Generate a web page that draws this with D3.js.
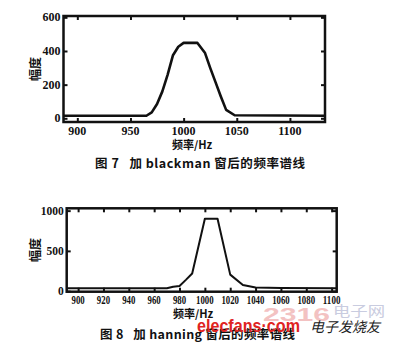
<!DOCTYPE html>
<html>
<head>
<meta charset="utf-8">
<script src="https://cdn.jsdelivr.net/npm/d3@7"></script>
<style>
  body { margin: 0; background: #fff; }
  svg { display: block; }
  .tick line { stroke: #111; stroke-width: 2; }
  .domain { display: none; }
  .caption { white-space: pre; }
</style>
</head>
<body>
<svg id="chart" width="400" height="347"></svg>
<script>
// fig 7 - blackman window
var freq7 = [887, 965, 970, 975, 980, 985, 990, 995, 1000, 1013, 1020, 1025, 1030, 1035, 1040, 1048, 1133];
var amp7  = [15, 15, 35, 85, 160, 260, 375, 425, 448, 448, 390, 300, 215, 130, 50, 18, 15];
var xTicks7 = [900, 950, 1000, 1050, 1100];
var yTicks7 = [0, 200, 400, 600];

// fig 8 - hanning window
var freq8 = [891, 970, 975, 980, 985, 990, 1000, 1010, 1020, 1030, 1040, 1060, 1104];
var amp8  = [35, 35, 55, 65, 140, 220, 900, 900, 205, 75, 45, 40, 35];
var xTicks8 = [900, 920, 940, 960, 980, 1000, 1020, 1040, 1060, 1080, 1100];
var yTicks8 = [0, 500, 1000];

var svg = d3.select("#chart");
var ink = "#111";
var serif = "'Liberation Serif', 'DejaVu Serif', serif";
var cjk = "'Noto Sans CJK SC', sans-serif";

function drawPanel(p) {
    var x = d3.scaleLinear().domain(p.xDomain).range([p.left, p.right]);
    var y = d3.scaleLinear().domain(p.yDomain).range([p.bottom, p.top]);
    var g = svg.append("g");

    // inward ticks on all four sides
    g.append("g").attr("transform", "translate(0," + p.bottom + ")")
        .call(d3.axisBottom(x).tickValues(p.xTicks).tickSizeInner(-4).tickSizeOuter(0).tickFormat(""));
    g.append("g").attr("transform", "translate(0," + p.top + ")")
        .call(d3.axisTop(x).tickValues(p.xTicks).tickSizeInner(-4).tickSizeOuter(0).tickFormat(""));
    g.append("g").attr("transform", "translate(" + p.left + ",0)")
        .call(d3.axisLeft(y).tickValues(p.yTicks).tickSizeInner(-4).tickSizeOuter(0).tickFormat(""));
    g.append("g").attr("transform", "translate(" + p.right + ",0)")
        .call(d3.axisRight(y).tickValues(p.yTicks).tickSizeInner(-4).tickSizeOuter(0).tickFormat(""));

    // tick labels
    var xl = g.selectAll(".xl").data(p.xTicks).enter().append("text")
        .attr("x", function(d) { return x(d); })
        .attr("y", p.bottom + p.xLabelDy)
        .attr("text-anchor", "middle")
        .style("font", "bold " + p.fs + "px " + serif)
        .attr("fill", ink)
        .text(function(d) { return d; });
    if (p.digitW) {
        xl.attr("textLength", function(d) { return String(d).length * p.digitW; })
          .attr("lengthAdjust", "spacingAndGlyphs");
    }
    g.selectAll(".yl").data(p.yTicks).enter().append("text")
        .attr("x", p.left - 3)
        .attr("y", function(d) { return y(d) + 4; })
        .attr("text-anchor", "end")
        .style("font", "bold " + p.fs + "px " + serif)
        .attr("fill", ink)
        .text(function(d) { return d; });

    // spectrum line
    var line = d3.line().x(function(d) { return x(d[0]); }).y(function(d) { return y(d[1]); });
    g.append("path")
        .datum(d3.zip(p.freq, p.amp))
        .attr("d", line)
        .attr("fill", "none")
        .attr("stroke", ink)
        .attr("stroke-width", p.lw)
        .attr("stroke-linejoin", "round");

    // frame
    g.append("rect")
        .attr("x", p.left).attr("y", p.top)
        .attr("width", p.right - p.left).attr("height", p.bottom - p.top)
        .attr("fill", "none").attr("stroke", ink).attr("stroke-width", 2.5);

    // axis titles
    g.append("text")
        .attr("transform", "translate(" + p.yTitleX + "," + ((p.top + p.bottom) / 2) + ") rotate(-90)")
        .attr("text-anchor", "middle")
        .style("font", "bold 12px " + cjk)
        .attr("fill", ink)
        .text("幅度");
    g.append("text")
        .attr("x", p.xTitleX).attr("y", p.xTitleY)
        .attr("text-anchor", "middle")
        .style("font", "bold 11px " + cjk)
        .attr("fill", ink)
        .text("频率/Hz");

    g.append("text")
        .attr("class", "caption")
        .attr("x", p.captionX).attr("y", p.captionY)
        .attr("textLength", p.captionW)
        .attr("lengthAdjust", "spacing")
        .style("font", "bold 12.5px " + cjk)
        .attr("fill", ink)
        .text(p.caption);
}

drawPanel({
    freq: freq7, amp: amp7, xTicks: xTicks7, yTicks: yTicks7,
    xDomain: [887, 1133], yDomain: [-22, 608],
    left: 63.5, right: 325, top: 16, bottom: 122,
    fs: 12, xLabelDy: 12.5, lw: 2.6,
    yTitleX: 40, xTitleX: 192, xTitleY: 148.5,
    captionX: 95, captionY: 168, captionW: 210,
    caption: "图 7   加 blackman 窗后的频率谱线"
});

drawPanel({
    freq: freq8, amp: amp8, xTicks: xTicks8, yTicks: yTicks8,
    xDomain: [891, 1104], yDomain: [-7, 1029],
    left: 66.7, right: 336.7, top: 208.3, bottom: 291.7,
    fs: 11.5, xLabelDy: 12, lw: 2, digitW: 4.4,
    yTitleX: 40, xTitleX: 193, xTitleY: 318,
    captionX: 100, captionY: 339, captionW: 195,
    caption: "图 8   加 hanning 窗后的频率谱线"
});

// watermark
svg.append("text").attr("x", 263).attr("y", 321)
    .attr("textLength", 67).attr("lengthAdjust", "spacingAndGlyphs")
    .style("font", "bold 18px 'Liberation Sans', sans-serif")
    .attr("fill", "#f3c2c2").text("2316");
svg.append("text").attr("x", 333).attr("y", 316)
    .attr("textLength", 52).attr("lengthAdjust", "spacingAndGlyphs")
    .style("font", "14px " + cjk)
    .attr("fill", "#c9cce0").text("电子网");
svg.append("text").attr("x", 197).attr("y", 332)
    .attr("textLength", 103).attr("lengthAdjust", "spacingAndGlyphs")
    .style("font", "bold 19px 'Liberation Sans', sans-serif")
    .attr("fill", "#e0241f").text("elecfans·com");
svg.append("text").attr("x", 310).attr("y", 332)
    .style("font", "italic 14px " + cjk)
    .attr("fill", "#222").text("电子发烧友");
</script>
</body>
</html>
